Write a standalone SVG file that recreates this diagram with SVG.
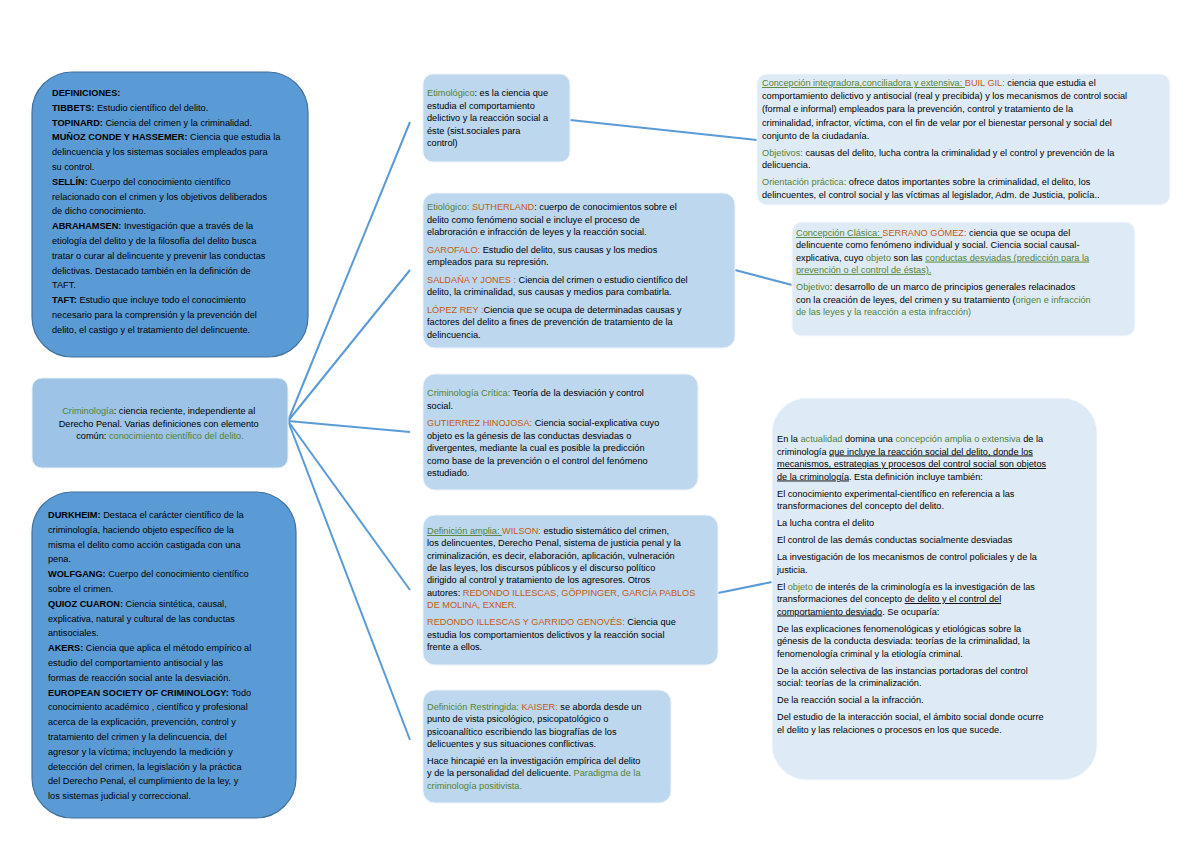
<svg xmlns="http://www.w3.org/2000/svg" width="1200" height="849" viewBox="0 0 1200 849">
<style>
text{font-family:"Liberation Sans",Arial,sans-serif;font-size:9.2px;fill:#000}
.g{fill:#548235}.o{fill:#c55a11}.u{text-decoration:underline}
.dk{fill:#5b9bd5;stroke:#41719c;stroke-width:1.2}
.md{fill:#9dc3e6;stroke:#e8f0f8;stroke-width:1}
.lt{fill:#bdd7ee;stroke:#eef4fa;stroke-width:1}
.xl{fill:#deebf7;stroke:#f4f8fc;stroke-width:1}
.c{stroke:#5b9bd5;stroke-width:2;fill:none}
</style>
<rect width="1200" height="849" fill="#fff"/>
<g id="connectors">
<path class="c" d="M288 421 L410 122"/>
<path class="c" d="M288 421 L410 270"/>
<path class="c" d="M288 421 L410 432"/>
<path class="c" d="M288 421 L410 590"/>
<path class="c" d="M288 421 L410 740"/>
<path class="c" d="M570 120 L757 140"/>
<path class="c" d="M735 270 L792 285"/>
<path class="c" d="M718 593 L772 582"/>
</g>
<g id="definiciones">
<rect class="dk" x="32" y="72" width="276" height="285" rx="40"/>
<text x="52" y="96"><tspan font-weight="bold">DEFINICIONES:</tspan>
<tspan x="52" dy="14.8"><tspan font-weight="bold">TIBBETS:</tspan> Estudio científico del delito.</tspan>
<tspan x="52" dy="14.8"><tspan font-weight="bold">TOPINARD:</tspan> Ciencia del crimen y la criminalidad.</tspan>
<tspan x="52" dy="14.8"><tspan font-weight="bold">MUÑOZ CONDE Y HASSEMER:</tspan> Ciencia que estudia la</tspan>
<tspan x="52" dy="14.8">delincuencia y los sistemas sociales empleados para</tspan>
<tspan x="52" dy="14.8">su control.</tspan>
<tspan x="52" dy="14.8"><tspan font-weight="bold">SELLÍN:</tspan> Cuerpo del conocimiento científico</tspan>
<tspan x="52" dy="14.8">relacionado con el crimen y los objetivos deliberados</tspan>
<tspan x="52" dy="14.8">de dicho conocimiento.</tspan>
<tspan x="52" dy="14.8"><tspan font-weight="bold">ABRAHAMSEN:</tspan> Investigación que a través de la</tspan>
<tspan x="52" dy="14.8">etiología del delito y de la filosofía del delito busca</tspan>
<tspan x="52" dy="14.8">tratar o curar al delincuente y prevenir las conductas</tspan>
<tspan x="52" dy="14.8">delictivas. Destacado también en la definición de</tspan>
<tspan x="52" dy="14.8">TAFT.</tspan>
<tspan x="52" dy="14.8"><tspan font-weight="bold">TAFT:</tspan> Estudio que incluye todo el conocimiento</tspan>
<tspan x="52" dy="14.8">necesario para la comprensión y la prevención del</tspan>
<tspan x="52" dy="14.8">delito, el castigo y el tratamiento del delincuente.</tspan></text>
</g>
<g id="criminologia">
<rect class="md" x="32" y="378" width="256" height="90" rx="10"/>
<text x="160" y="414" text-anchor="middle"><tspan class="g">Criminología</tspan>: ciencia reciente, independiente al
<tspan x="160" dy="12.5">Derecho Penal. Varias definiciones con elemento</tspan>
<tspan x="160" dy="12.5">común: <tspan class="g">conocimiento científico del delito.</tspan></tspan></text>
</g>
<g id="durkheim">
<rect class="dk" x="32" y="492" width="264" height="326" rx="40"/>
<text x="48" y="518"><tspan font-weight="bold">DURKHEIM:</tspan> Destaca el carácter científico de la
<tspan x="48" dy="14.8">criminología, haciendo objeto específico de la</tspan>
<tspan x="48" dy="14.8">misma el delito como acción castigada con una</tspan>
<tspan x="48" dy="14.8">pena.</tspan>
<tspan x="48" dy="14.8"><tspan font-weight="bold">WOLFGANG:</tspan> Cuerpo del conocimiento científico</tspan>
<tspan x="48" dy="14.8">sobre el crimen.</tspan>
<tspan x="48" dy="14.8"><tspan font-weight="bold">QUIOZ CUARON:</tspan> Ciencia sintética, causal,</tspan>
<tspan x="48" dy="14.8">explicativa, natural y cultural de las conductas</tspan>
<tspan x="48" dy="14.8">antisociales.</tspan>
<tspan x="48" dy="14.8"><tspan font-weight="bold">AKERS:</tspan> Ciencia que aplica el método empírico al</tspan>
<tspan x="48" dy="14.8">estudio del comportamiento antisocial y las</tspan>
<tspan x="48" dy="14.8">formas de reacción social ante la desviación.</tspan>
<tspan x="48" dy="14.8"><tspan font-weight="bold">EUROPEAN SOCIETY OF CRIMINOLOGY:</tspan> Todo</tspan>
<tspan x="48" dy="14.8">conocimiento académico , científico y profesional</tspan>
<tspan x="48" dy="14.8">acerca de la explicación, prevención, control y</tspan>
<tspan x="48" dy="14.8">tratamiento del crimen y la delincuencia, del</tspan>
<tspan x="48" dy="14.8">agresor y la víctima; incluyendo la medición y</tspan>
<tspan x="48" dy="14.8">detección del crimen, la legislación y la práctica</tspan>
<tspan x="48" dy="14.8">del Derecho Penal, el cumplimiento de la ley, y</tspan>
<tspan x="48" dy="14.8">los sistemas judicial y correccional.</tspan></text>
</g>
<g id="etimologico">
<rect class="lt" x="423" y="74" width="147" height="88" rx="10"/>
<text x="427" y="96"><tspan class="g">Etimológico</tspan>: es la ciencia que
<tspan x="427" dy="12.5">estudia el comportamiento</tspan>
<tspan x="427" dy="12.5">delictivo y la reacción social a</tspan>
<tspan x="427" dy="12.5">éste (sist.sociales para</tspan>
<tspan x="427" dy="12.5">control)</tspan></text>
</g>
<g id="etiologico">
<rect class="lt" x="423" y="193" width="312" height="155" rx="12"/>
<text x="427" y="210"><tspan class="g">Etiológico: </tspan><tspan class="o">SUTHERLAND</tspan>: cuerpo de conocimientos sobre el
<tspan x="427" dy="12.5">delito como fenómeno social e incluye el proceso de</tspan>
<tspan x="427" dy="12.5">elabroración e infracción de leyes y la reacción social.</tspan>
<tspan x="427" dy="17.5"><tspan class="o">GAROFALO:</tspan> Estudio del delito, sus causas y los medios</tspan>
<tspan x="427" dy="12.5">empleados para su represión.</tspan>
<tspan x="427" dy="17.5"><tspan class="o">SALDAÑA Y JONES :</tspan> Ciencia del crimen o estudio científico del</tspan>
<tspan x="427" dy="12.5">delito, la criminalidad, sus causas y medios para combatirla.</tspan>
<tspan x="427" dy="17.5"><tspan class="o">LÓPEZ REY :</tspan>Ciencia que se ocupa de determinadas causas y</tspan>
<tspan x="427" dy="12.5">factores del delito a fines de prevención de tratamiento de la</tspan>
<tspan x="427" dy="12.5">delincuencia.</tspan></text>
</g>
<g id="critica">
<rect class="lt" x="423" y="374" width="275" height="116" rx="12"/>
<text x="427" y="396"><tspan class="g">Criminología Crítica:</tspan> Teoría de la desviación y control
<tspan x="427" dy="12.5">social.</tspan>
<tspan x="427" dy="17.5"><tspan class="o">GUTIERREZ HINOJOSA:</tspan> Ciencia social-explicativa cuyo</tspan>
<tspan x="427" dy="12.5">objeto es la génesis de las conductas desviadas o</tspan>
<tspan x="427" dy="12.5">divergentes, mediante la cual es posible la predicción</tspan>
<tspan x="427" dy="12.5">como base de la prevención o el control del fenómeno</tspan>
<tspan x="427" dy="12.5">estudiado.</tspan></text>
</g>
<g id="amplia">
<rect class="lt" x="423" y="515" width="295" height="150" rx="12"/>
<text x="427" y="534"><tspan class="g u">Definición amplia: </tspan><tspan class="o">WILSON:</tspan> estudio sistemático del crimen,
<tspan x="427" dy="12.3">los delincuentes, Derecho Penal, sistema de justicia penal y la</tspan>
<tspan x="427" dy="12.3">criminalización, es decir, elaboración, aplicación, vulneración</tspan>
<tspan x="427" dy="12.3">de las leyes, los discursos públicos y el discurso político</tspan>
<tspan x="427" dy="12.3">dirigido al control y tratamiento de los agresores. Otros</tspan>
<tspan x="427" dy="12.3">autores: <tspan class="o">REDONDO ILLESCAS, GÖPPINGER, GARCÍA PABLOS</tspan></tspan>
<tspan x="427" dy="12.3" class="o">DE MOLINA, EXNER.</tspan>
<tspan x="427" dy="17.5"><tspan class="o">REDONDO ILLESCAS Y GARRIDO GENOVÉS:</tspan> Ciencia que</tspan>
<tspan x="427" dy="12.3">estudia los comportamientos delictivos y la reacción social</tspan>
<tspan x="427" dy="12.3">frente a ellos.</tspan></text>
</g>
<g id="restringida">
<rect class="lt" x="423" y="690" width="248" height="113" rx="12"/>
<text x="427" y="710"><tspan class="g">Definición Restringida: </tspan><tspan class="o">KAISER:</tspan> se aborda desde un
<tspan x="427" dy="12.3">punto de vista psicológico, psicopatológico o</tspan>
<tspan x="427" dy="12.3">psicoanalítico escribiendo las biografías de los</tspan>
<tspan x="427" dy="12.3">delicuentes y sus situaciones conflictivas.</tspan>
<tspan x="427" dy="17">Hace hincapié en la investigación empírica del delito</tspan>
<tspan x="427" dy="12.3">y de la personalidad del delicuente. <tspan class="g">Paradigma de la</tspan></tspan>
<tspan x="427" dy="12.3" class="g">criminología positivista.</tspan></text>
</g>
<g id="integradora">
<rect class="xl" x="757" y="74" width="413" height="131" rx="10"/>
<text x="762" y="86"><tspan class="g u">Concepción integradora,conciliadora y extensiva:  </tspan><tspan class="o">BUIL GIL:</tspan> ciencia que estudia el
<tspan x="762" dy="13.2">comportamiento delictivo y antisocial (real y precibida) y los mecanismos de control social</tspan>
<tspan x="762" dy="13.2">(formal e informal) empleados para la prevención, control y tratamiento de la</tspan>
<tspan x="762" dy="13.2">criminalidad, infractor, víctima, con el fin de velar por el bienestar personal y social del</tspan>
<tspan x="762" dy="13.2">conjunto de la ciudadanía.</tspan>
<tspan x="762" dy="17"><tspan class="g">Objetivos:</tspan> causas del delito, lucha contra la criminalidad y el control y prevención de la</tspan>
<tspan x="762" dy="12.5">delicuencia.</tspan>
<tspan x="762" dy="17"><tspan class="g">Orientación práctica:</tspan> ofrece datos importantes sobre la criminalidad, el delito, los</tspan>
<tspan x="762" dy="12.5">delincuentes, el control social y las víctimas al legislador, Adm. de Justicia, policía..</tspan></text>
</g>
<g id="clasica">
<rect class="xl" x="792" y="222" width="343" height="114" rx="10"/>
<text x="796" y="236"><tspan class="g u">Concepción Clásica: </tspan><tspan class="o">SERRANO GÓMEZ:</tspan> ciencia que se ocupa del
<tspan x="796" dy="12.3">delincuente como fenómeno individual y social. Ciencia social causal-</tspan>
<tspan x="796" dy="12.3">explicativa, cuyo <tspan class="g">objeto</tspan> son las <tspan class="g u">conductas desviadas (predicción para la</tspan></tspan>
<tspan x="796" dy="12.3" class="g u">prevención o el control de éstas).</tspan>
<tspan x="796" dy="17.5"><tspan class="g">Objetivo</tspan>: desarrollo de un marco de principios generales relacinados</tspan>
<tspan x="796" dy="12.3">con la creación de leyes, del crimen y su tratamiento (<tspan class="g">origen e infracción</tspan></tspan>
<tspan x="796" dy="12.3" class="g">de las leyes y la reacción a esta infracción)</tspan></text>
</g>
<g id="actualidad">
<rect class="xl" x="772" y="398" width="325" height="382" rx="35"/>
<text x="777" y="442">En la <tspan class="g">actualidad</tspan> domina una <tspan class="g">concepción amplia o extensiva</tspan> de la
<tspan x="777" dy="12.5">criminología <tspan class="u">que incluye la reacción social del delito, donde los</tspan></tspan>
<tspan x="777" dy="12.5" class="u">mecanismos, estrategias y procesos del control social son objetos</tspan>
<tspan x="777" dy="12.5"><tspan class="u">de la criminología</tspan>. Esta definición incluye también:</tspan>
<tspan x="777" dy="17">El conocimiento experimental-científico en referencia a las</tspan>
<tspan x="777" dy="12.5">transformaciones del concepto del delito.</tspan>
<tspan x="777" dy="17">La lucha contra el delito</tspan>
<tspan x="777" dy="17">El control de las demás conductas socialmente desviadas</tspan>
<tspan x="777" dy="17">La investigación de los mecanismos de control policiales y de la</tspan>
<tspan x="777" dy="12.5">justicia.</tspan>
<tspan x="777" dy="17">El <tspan class="g">objeto</tspan> de interés de la criminología es la investigación de las</tspan>
<tspan x="777" dy="12.5">transformaciones del concepto <tspan class="u">de delito y el control del</tspan></tspan>
<tspan x="777" dy="12.5"><tspan class="u">comportamiento desviado</tspan>. Se ocuparía:</tspan>
<tspan x="777" dy="17">De las explicaciones fenomenológicas y etiológicas sobre la</tspan>
<tspan x="777" dy="12.5">génesis de la conducta desviada: teorías de la criminalidad,  la</tspan>
<tspan x="777" dy="12.5">fenomenología criminal y la etiología criminal.</tspan>
<tspan x="777" dy="17">De la acción selectiva de las instancias portadoras del control</tspan>
<tspan x="777" dy="12.5">social: teorías de la criminalización.</tspan>
<tspan x="777" dy="17">De la reacción social a la infracción.</tspan>
<tspan x="777" dy="17">Del estudio de la interacción social, el ámbito social donde ocurre</tspan>
<tspan x="777" dy="12.5">el delito y las relaciones o procesos en los que sucede.</tspan></text>
</g>
</svg>
